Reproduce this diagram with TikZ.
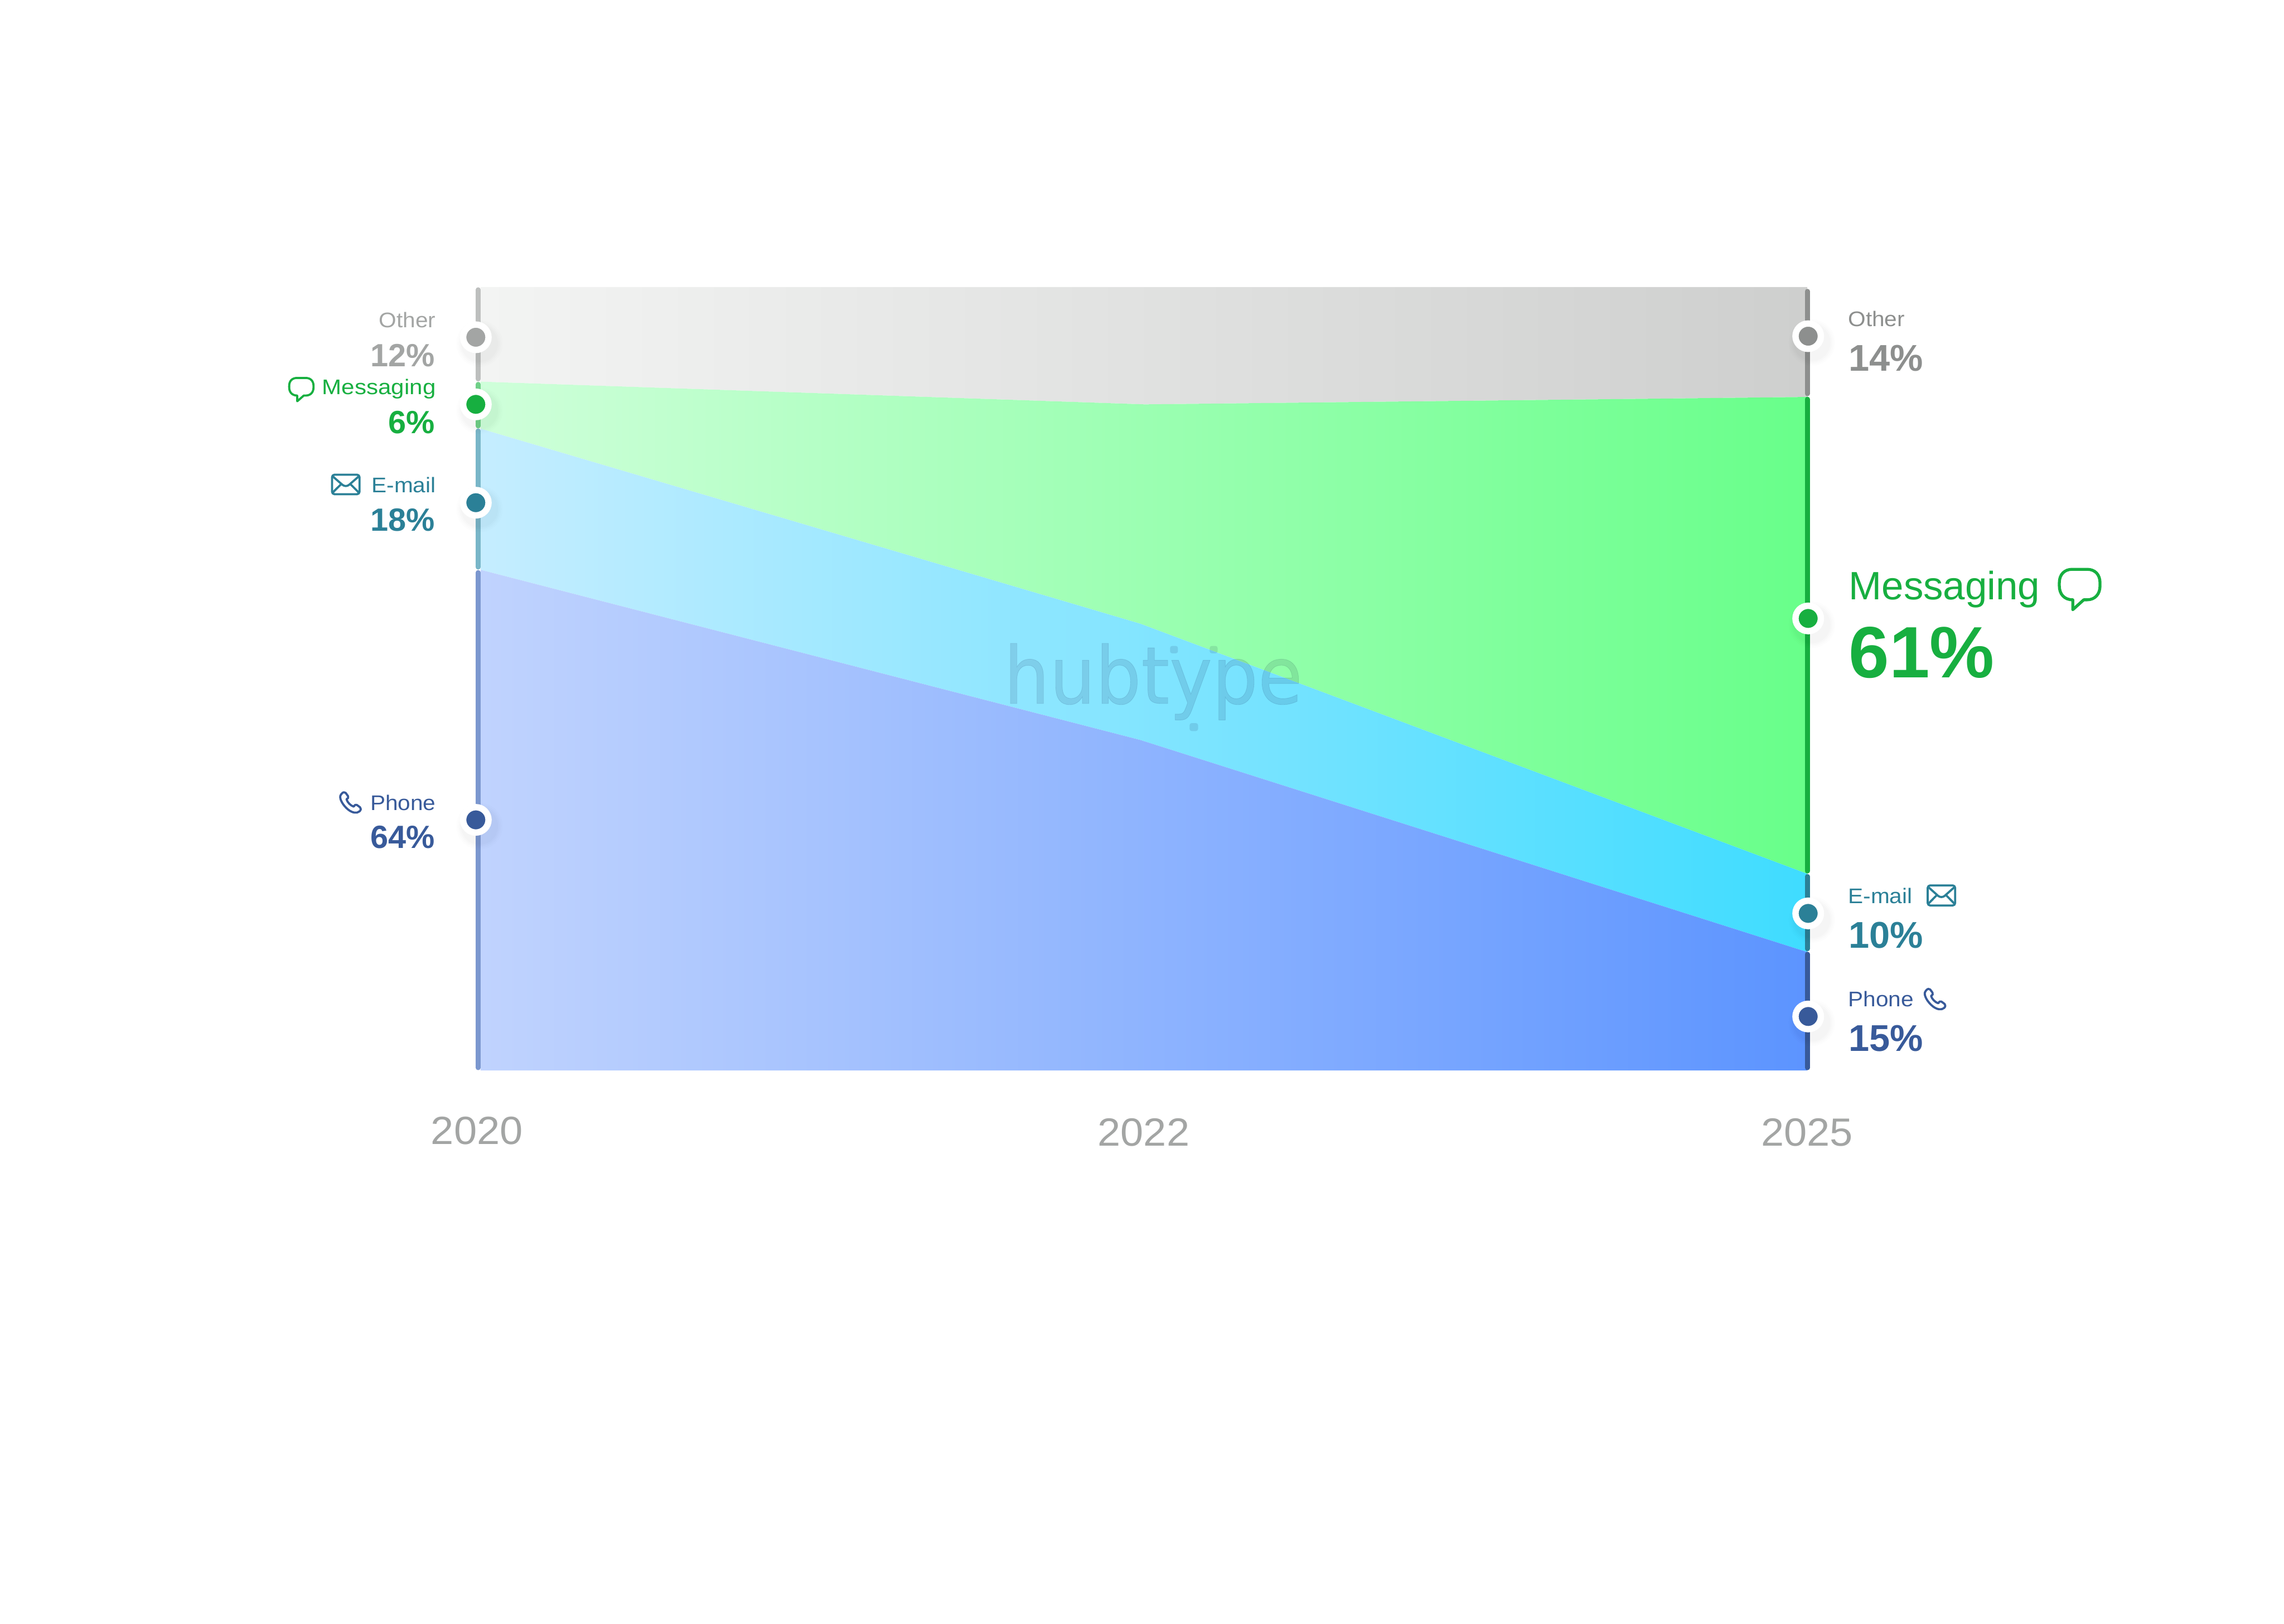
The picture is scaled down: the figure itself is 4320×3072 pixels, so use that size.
\documentclass[tikz,border=0pt]{standalone}
\usepackage{fontspec}
\setmainfont{Liberation Sans}
\newfontfamily\labfont[FakeStretch=1.07]{Liberation Sans}
\newfontfamily\msgfont[FakeStretch=1.11]{Liberation Sans}
\newfontfamily\yearfont[FakeStretch=1.05]{Liberation Sans}
\newfontfamily\logofont[FakeBold=0.6]{DejaVu Sans}
\definecolor{cGrayL}{HTML}{A3A5A4}
\definecolor{cGrayR}{HTML}{8D8F8E}
\definecolor{cGreen}{HTML}{17AF40}
\definecolor{cTeal}{HTML}{2B8097}
\definecolor{cBlue}{HTML}{385A9A}
\tikzset{
  x=0.25pt,y=-0.25pt,
  barseg/.style={line width=2.25pt,line cap=round},
  dotmark/.style={circle,draw=white,line width=3pt,minimum size=12pt,inner sep=0pt},
  lab/.style={inner sep=0pt,font=\labfont\fontsize{10}{12}\selectfont},
  pctsmall/.style={inner sep=0pt,font=\fontsize{15.2}{18}\bfseries\selectfont},
  pctmid/.style={inner sep=0pt,font=\fontsize{17.6}{20}\bfseries\selectfont},
  year/.style={inner sep=0pt,text=cGrayL,font=\yearfont\fontsize{18.6}{22}\selectfont},
  icon/.style={line width=1pt,line join=round,line cap=round},
  logoink/.style={black!80!blue,opacity=.1,rounded corners=1pt},
  envmark/.pic={
    \draw[rounded corners=1.2pt] (0,0) rectangle (1,1);
    \draw (0.02,0.08) -- (0.38,0.52) .. controls (0.45,0.6) and (0.55,0.6) .. (0.62,0.52) -- (0.98,0.08);
    \draw (0.02,0.92) -- (0.32,0.5) (0.98,0.92) -- (0.68,0.5);
  },
  bubblemark/.pic={
    \draw (.33,.74) -- (.33,.98) -- (.6,.74) -- (.68,.74) .. controls (.88,.74) and (1,.6) .. (1,.4) -- (1,.33) .. controls (1,.13) and (.88,0) .. (.68,0) -- (.32,0) .. controls (.12,0) and (0,.13) .. (0,.33) -- (0,.4) .. controls (0,.6) and (.12,.74) .. (.33,.74) -- cycle;
  },
  phonemark/.pic={
    \draw (.07,.1) .. controls (.15,.0) and (.22,0) .. (.27,.05) -- (.38,.2) .. controls (.42,.27) and (.38,.32) .. (.31,.35) .. controls (.35,.5) and (.5,.65) .. (.65,.7) .. controls (.68,.63) and (.74,.58) .. (.8,.62) -- (.95,.73) .. controls (1,.78) and (1,.85) .. (.93,.92) .. controls (.8,1.03) and (.6,1) .. (.4,.85) .. controls (.15,.65) and (-.03,.35) .. (.02,.18) .. controls (.03,.14) and (.05,.12) .. (.07,.1) -- cycle;
  },
}
\newcommand{\softshadow}[2]{%
  \foreach \r/\o in {44/.006,41/.008,38/.01,35/.012}
    \fill[black,opacity=\o] (#1+7,#2+12) circle[radius=\r];
}
\begin{document}
\begin{tikzpicture}
\useasboundingbox (0,0) rectangle (4320,3072);
% areas
\shade[left color={rgb,255:red,243;green,244;blue,243},right color={rgb,255:red,206;green,207;blue,206}]
  (909,543) -- (3418,543) -- (3418,751) -- (2165,765) -- (909,722) -- cycle;
\shade[left color={rgb,255:red,207;green,255;blue,218},right color={rgb,255:red,104;green,255;blue,138}]
  (909,722) -- (2165,765) -- (3418,751) -- (3418,1653) -- (2157,1180) -- (909,811) -- cycle;
\shade[left color={rgb,255:red,197;green,237;blue,255},right color={rgb,255:red,63;green,220;blue,255}]
  (909,811) -- (2157,1180) -- (3418,1653) -- (3418,1801) -- (2157,1400) -- (909,1078) -- cycle;
\shade[left color={rgb,255:red,192;green,211;blue,254},right color={rgb,255:red,92;green,148;blue,255}]
  (909,1078) -- (2157,1400) -- (3418,1801) -- (3418,2025) -- (909,2025) -- cycle;
% logo
\node[inner sep=0pt,anchor=base west,text=black!80!blue,text opacity=.1,xscale=.91,font=\logofont\fontsize{37.5}{40}\selectfont] (logo) at (1898,1331) {hubtype};
\fill[logoink] (2250,1368) rectangle (2266,1383);
\fill[logoink] (2213,1222) rectangle (2228,1236);
\fill[logoink] (2288,1222) rectangle (2303,1236);
% axis bars
\draw[barseg,color={rgb,255:red,189;green,191;blue,190}] (904.5,548) -- (904.5,717);
\draw[barseg,color={rgb,255:red,112;green,208;blue,136}] (904.5,727) -- (904.5,806);
\draw[barseg,color={rgb,255:red,121;green,182;blue,200}] (904.5,815) -- (904.5,1073);
\draw[barseg,color={rgb,255:red,123;green,151;blue,207}] (904.5,1083) -- (904.5,2020);
\draw[barseg,color=cGrayR] (3418.5,551) -- (3418.5,745);
\draw[barseg,color=cGreen] (3418.5,755) -- (3418.5,1648);
\draw[barseg,color=cTeal] (3418.5,1658) -- (3418.5,1795);
\draw[barseg,color=cBlue] (3418.5,1805) -- (3418.5,2020);
% dots
\softshadow{900}{638}
\softshadow{900}{765}
\softshadow{900}{951}
\softshadow{900}{1551}
\softshadow{3420}{636}
\softshadow{3420}{1170}
\softshadow{3420}{1728}
\softshadow{3420}{1923}
\node[dotmark,fill=cGrayL] (dOtherL) at (900,638) {};
\node[dotmark,fill=cGreen] (dMsgL) at (900,765) {};
\node[dotmark,fill=cTeal] (dMailL) at (900,951) {};
\node[dotmark,fill=cBlue] (dPhoneL) at (900,1551) {};
\node[dotmark,fill=cGrayR] (dOtherR) at (3420,636) {};
\node[dotmark,fill=cGreen] (dMsgR) at (3420,1170) {};
\node[dotmark,fill=cTeal] (dMailR) at (3420,1728) {};
\node[dotmark,fill=cBlue] (dPhoneR) at (3420,1923) {};
% left labels
\node[lab,anchor=base east,text=cGrayL] (lOther) at (825,620) {Other};
\node[pctsmall,anchor=base east,text=cGrayL] (pOther) at (823,693) {12\%};
\node[lab,font=\msgfont\fontsize{10}{12}\selectfont,anchor=base east,text=cGreen] (lMsg) at (825,746) {Messaging};
\node[pctsmall,anchor=base east,text=cGreen] (pMsg) at (823,820) {6\%};
\node[lab,anchor=base east,text=cTeal] (lMail) at (825,932) {E-mail};
\node[pctsmall,anchor=base east,text=cTeal] (pMail) at (823,1005) {18\%};
\node[lab,anchor=base east,text=cBlue] (lPhone) at (825,1533) {Phone};
\node[pctsmall,anchor=base east,text=cBlue] (pPhone) at (823,1605) {64\%};
\coordinate (iMsgL) at (547,715);
\coordinate (iMailL) at (628,898);
\coordinate (iPhoneL) at (643,1498);
\coordinate (iMsgR) at (3895,1077);
\coordinate (iMailR) at (3646,1675);
\coordinate (iPhoneR) at (3640,1870);
\pic[icon,color=cGreen,x=11.5pt,y=-11.25pt] at (iMsgL) {bubblemark};
\pic[icon,color=cTeal,x=13pt,y=-9.25pt] at (iMailL) {envmark};
\pic[icon,color=cBlue,x=10pt,y=-10pt] at (iPhoneL) {phonemark};
% right labels
\node[lab,anchor=base west,text=cGrayR] (rOther) at (3495,618) {Other};
\node[pctmid,anchor=base west,text=cGrayR] (qOther) at (3496,702) {14\%};
\node[inner sep=0pt,anchor=base west,text=cGreen,font=\fontsize{18.7}{20}\selectfont] (rMsg) at (3496,1134) {Messaging};
\node[inner sep=0pt,anchor=base west,text=cGreen,font=\fontsize{34.4}{38}\bfseries\selectfont] (qMsg) at (3496,1282) {61\%};
\node[lab,anchor=base west,text=cTeal] (rMail) at (3495,1709) {E-mail};
\node[pctmid,anchor=base west,text=cTeal] (qMail) at (3496,1794) {10\%};
\node[lab,anchor=base west,text=cBlue] (rPhone) at (3495,1904) {Phone};
\node[pctmid,anchor=base west,text=cBlue] (qPhone) at (3496,1989) {15\%};
\pic[icon,line width=1.4pt,color=cGreen,x=19.25pt,y=-19.5pt] at (iMsgR) {bubblemark};
\pic[icon,color=cTeal,x=13pt,y=-9.5pt] at (iMailR) {envmark};
\pic[icon,color=cBlue,x=10pt,y=-10pt] at (iPhoneR) {phonemark};
% years
\node[year,anchor=base] (y2020) at (902,2165) {2020};
\node[year,anchor=base] (y2022) at (2163,2168) {2022};
\node[year,anchor=base] (y2025) at (3418,2168) {2025};
\end{tikzpicture}
\end{document}
